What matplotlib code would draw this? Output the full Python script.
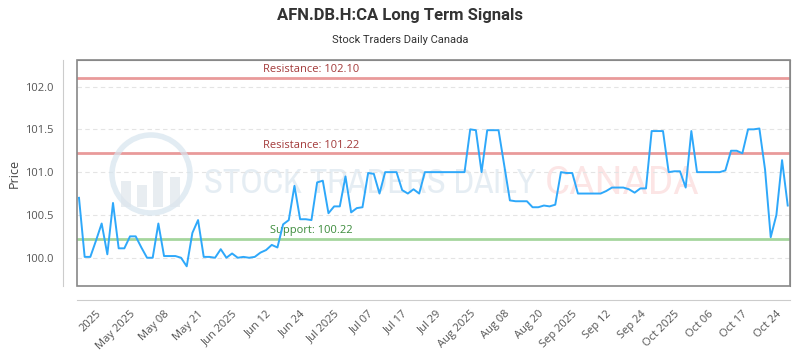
import matplotlib
matplotlib.use("Agg")
import matplotlib.pyplot as plt
from matplotlib import font_manager
from matplotlib.patches import Circle, Rectangle

price = [100.70, 100.01, 100.01, 100.20, 100.40, 100.04, 100.64, 100.11, 100.11, 100.25,
         100.25, 100.12, 100.00, 100.00, 100.40, 100.02, 100.02, 100.02, 100.00, 99.90,
         100.29, 100.44, 100.01, 100.01, 100.00, 100.10, 100.00, 100.05, 100.00, 100.01,
         100.00, 100.01, 100.06, 100.09, 100.15, 100.12, 100.39, 100.44, 100.84, 100.45,
         100.45, 100.44, 100.88, 100.90, 100.52, 100.60, 100.60, 100.95, 100.53, 100.58,
         100.59, 100.99, 100.98, 100.75, 101.00, 101.00, 101.00, 100.79, 100.75, 100.80,
         100.75, 101.00, 101.00, 101.00, 101.00, 101.00, 101.00, 101.00, 101.00, 101.50,
         101.49, 101.00, 101.49, 101.49, 101.49, 101.08, 100.67, 100.66, 100.66, 100.66,
         100.59, 100.59, 100.61, 100.60, 100.62, 101.00, 100.99, 100.99, 100.75, 100.75,
         100.75, 100.75, 100.75, 100.78, 100.82, 100.82, 100.82, 100.80, 100.76, 100.81,
         100.81, 101.48, 101.48, 101.48, 101.00, 101.01, 101.01, 100.82, 101.48, 101.00,
         101.00, 101.00, 101.00, 101.00, 101.02, 101.25, 101.25, 101.22, 101.50, 101.50,
         101.51, 101.03, 100.24, 100.50, 101.14, 100.61]

tick_pos = [3, 9, 15, 21, 27, 33, 39, 45, 51, 57, 63, 69, 75, 81, 87, 93, 99, 105, 111, 117, 123]
tick_labels = ["2025", "May 2025", "May 08", "May 21", "Jun 2025", "Jun 12", "Jun 24",
               "Jul 2025", "Jul 07", "Jul 17", "Jul 29", "Aug 2025", "Aug 08", "Aug 20",
               "Sep 2025", "Sep 12", "Sep 24", "Oct 2025", "Oct 06", "Oct 17", "Oct 24"]

resistance = [102.10, 101.22]
support = [100.22]

# condensed face for the watermark, else Roboto
narrow = "Roboto"
for f in font_manager.fontManager.ttflist:
    if "Narrow" in f.name or "Condensed" in f.name:
        narrow = f.name
        break

plt.rcParams['font.family'] = ['Open Sans', 'DejaVu Sans']

fig = plt.figure(figsize=(8, 3.5), dpi=100)
ax = fig.add_axes([77 / 800, 64 / 350, 713 / 800, 226 / 350])

# spines first: set_position resets the tick labels
for side in ["left", "bottom"]:
    ax.spines[side].set_position(("outward", 10))
    ax.spines[side].set_color("#cccccc")
for side in ["top", "right"]:
    ax.spines[side].set_color("#888888")

x = list(range(len(price)))

# watermark
fig.patches.append(Circle((1.51, 1.76), 0.39, transform=fig.dpi_scale_trans,
                          fill=False, lw=4, ec="#d6e4ee", alpha=0.7, zorder=0))
for bx, bh in [(1.21, 0.26), (1.37, 0.22), (1.53, 0.36), (1.70, 0.30)]:
    fig.patches.append(Rectangle((bx, 1.43), 0.1, bh, transform=fig.dpi_scale_trans,
                                 fc="#dfe6ec", ec="none", alpha=0.7, zorder=0))
ax.text(0.178, 0.455, "STOCK TRADERS DAILY", transform=ax.transAxes, fontsize=25,
        family=narrow, color="#dbe6ef", alpha=0.7, va="center", ha="left", zorder=0)
ax.text(0.656, 0.455, "CANADA", transform=ax.transAxes, fontsize=28,
        family="Roboto", color="#fbdada", alpha=0.7, va="center", ha="left", zorder=0)

for r in resistance:
    ax.axhline(r, color="#e07070", lw=2, alpha=0.7, zorder=2)
    ax.text(41, r + 0.03, f"Resistance: {r:.2f}", color="#a33a3a", fontsize=8,
            ha="center", va="bottom", zorder=3)
for s in support:
    ax.axhline(s, color="#8fcc85", lw=2, alpha=0.8, zorder=2)
    ax.text(41, s + 0.03, f"Support: {s:.2f}", color="#3c8c3c", fontsize=8,
            ha="center", va="bottom", zorder=3)

ax.plot(x, price, color="#2ea8fa", lw=1.4, zorder=4)

ax.set_xlim(-0.35, 125.4)
ax.set_ylim(99.67, 102.31)
ax.set_yticks([100.0, 100.5, 101.0, 101.5, 102.0])
ax.yaxis.grid(True, color="#e4e4e4", ls=(0, (4, 3)), lw=0.8)
ax.set_axisbelow(True)

ax.set_xticks(tick_pos)
ax.set_xticklabels(tick_labels, rotation=45, ha="right", rotation_mode="anchor")
ax.tick_params(axis="both", length=0, labelsize=8, labelcolor="#555555")
ax.tick_params(axis="x", pad=6)
ax.tick_params(axis="y", pad=7)

ax.add_patch(Rectangle((0, 0), 1, 1, transform=ax.transAxes, fill=False,
                       ec="#888888", lw=1.2, clip_on=False, zorder=5))

ax.set_ylabel("Price", fontsize=9, color="#444444", labelpad=3)

fig.text(0.5, 0.955, "AFN.DB.H:CA Long Term Signals", ha="center", va="center",
         fontsize=12, fontweight="bold", color="#333333", family="Roboto")
fig.text(0.5, 0.885, "Stock Traders Daily Canada", ha="center", va="center",
         fontsize=8, color="#333333", family="Roboto")

fig.savefig("out.png", dpi=100)
